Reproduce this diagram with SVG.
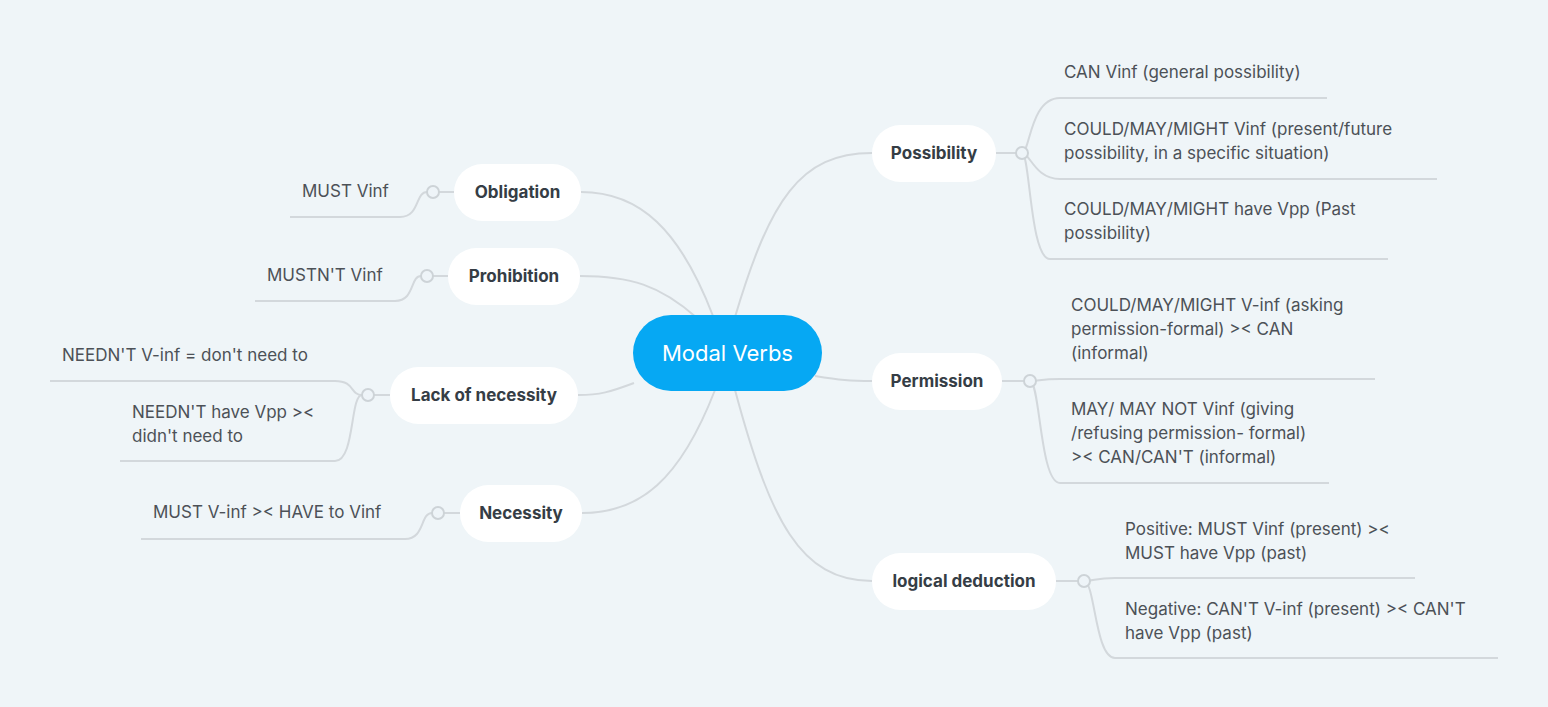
<svg xmlns="http://www.w3.org/2000/svg" width="1548" height="707" viewBox="0 0 1548 707">
<style>
.l{fill:none;stroke:#d3d8dc;stroke-width:2}
.n{fill:#fff}
.t{font-family:Inter,"Liberation Sans",sans-serif;font-size:17px;font-weight:bold;fill:#353d45;text-anchor:middle}
.s{font-family:Inter,"Liberation Sans",sans-serif;font-size:17px;fill:#4c5157}
.c{fill:#eef4f8;stroke:#cdd3d7;stroke-width:2}
</style>
<rect width="1548" height="707" fill="#eff5f8"/>
<g id="connectors">
<path class="l" d="M735,317 C770,200 800,153 872,153"/>
<path class="l" d="M815,376 C840,380 850,381 872,381"/>
<path class="l" d="M735,390 C770,520 800,581 872,581"/>
<path class="l" d="M713,316 C680,230 640,192 581,192"/>
<path class="l" d="M697,318 C660,285 630,276 580,276"/>
<path class="l" d="M634,383 C610,392 600,395 578,395"/>
<path class="l" d="M715,390 C680,480 640,513 582,513"/>
<path class="l" d="M996,153 H1016 M1022,153 C1030,153 1030,98 1060,98 H1327 M1022,153 C1030,153 1035,179 1060,179 H1437 M1022,153 C1030,153 1030,259 1050,259 H1388"/>
<path class="l" d="M1002,381 H1024 M1030,381 C1040,381 1040,379 1060,379 H1375 M1030,381 C1040,381 1040,483 1060,483 H1329"/>
<path class="l" d="M1056,581 H1078 M1084,581 C1095,581 1095,578 1115,578 H1415 M1084,581 C1095,581 1095,658 1115,658 H1498"/>
<path class="l" d="M454,192 H439 M427,192 C415,192 420,217 400,217 H290"/>
<path class="l" d="M448,276 H433 M421,276 C410,276 415,301 395,301 H255"/>
<path class="l" d="M390,395 H374 M362,395 C350,395 355,381 335,381 H50 M362,395 C350,395 355,461 335,461 H120"/>
<path class="l" d="M460,513 H444 M432,513 C420,513 425,539 405,539 H141"/>
</g>
<g id="center"><rect x="633" y="315" width="189" height="76" rx="38" fill="#06a8f3"/><text x="727.5" y="361" font-family="Inter,'Liberation Sans',sans-serif" font-size="22" fill="#fff" text-anchor="middle">Modal Verbs</text></g>
<g id="possibility"><rect class="n" x="872" y="125" width="124" height="57" rx="28.5"/><text class="t" x="934" y="159">Possibility</text><circle class="c" cx="1022" cy="153" r="6"/>
<text class="s" x="1064" y="78">CAN Vinf (general possibility)</text>
<text class="s" x="1064" y="135">COULD/MAY/MIGHT Vinf  (present/future</text><text class="s" x="1064" y="159">possibility, in a specific situation)</text>
<text class="s" x="1064" y="215">COULD/MAY/MIGHT have Vpp (Past</text><text class="s" x="1064" y="239">possibility)</text></g>
<g id="permission"><rect class="n" x="872" y="353" width="130" height="57" rx="28.5"/><text class="t" x="937" y="387">Permission</text><circle class="c" cx="1030" cy="381" r="6"/>
<text class="s" x="1071" y="311">COULD/MAY/MIGHT V-inf (asking</text><text class="s" x="1071" y="335">permission-formal) &gt;&lt; CAN</text><text class="s" x="1071" y="359">(informal)</text>
<text class="s" x="1071" y="415">MAY/ MAY NOT Vinf (giving</text><text class="s" x="1071" y="439">/refusing permission- formal)</text><text class="s" x="1071" y="463">&gt;&lt; CAN/CAN'T (informal)</text></g>
<g id="logical"><rect class="n" x="872" y="553" width="184" height="57" rx="28.5"/><text class="t" x="964" y="587">logical deduction</text><circle class="c" cx="1084" cy="581" r="6"/>
<text class="s" x="1125" y="535">Positive: MUST Vinf (present) &gt;&lt;</text><text class="s" x="1125" y="559">MUST have Vpp (past)</text>
<text class="s" x="1125" y="615">Negative: CAN'T V-inf (present) &gt;&lt; CAN'T</text><text class="s" x="1125" y="639">have Vpp (past)</text></g>
<g id="obligation"><rect class="n" x="454" y="164" width="127" height="57" rx="28.5"/><text class="t" x="517.5" y="198">Obligation</text><circle class="c" cx="433" cy="192" r="6"/><text class="s" x="302" y="197">MUST Vinf</text></g>
<g id="prohibition"><rect class="n" x="448" y="248" width="132" height="57" rx="28.5"/><text class="t" x="514" y="282">Prohibition</text><circle class="c" cx="427" cy="276" r="6"/><text class="s" x="267" y="281">MUSTN'T Vinf</text></g>
<g id="lack"><rect class="n" x="390" y="367" width="188" height="57" rx="28.5"/><text class="t" x="484" y="401">Lack of necessity</text><circle class="c" cx="368" cy="395" r="6"/>
<text class="s" x="62" y="361">NEEDN'T  V-inf = don't need to</text>
<text class="s" x="132" y="418">NEEDN'T have Vpp  &gt;&lt;</text><text class="s" x="132" y="442">didn't need to</text></g>
<g id="necessity"><rect class="n" x="460" y="485" width="122" height="57" rx="28.5"/><text class="t" x="521" y="519">Necessity</text><circle class="c" cx="438" cy="513" r="6"/><text class="s" x="153" y="518">MUST V-inf &gt;&lt; HAVE to Vinf</text></g>
</svg>
